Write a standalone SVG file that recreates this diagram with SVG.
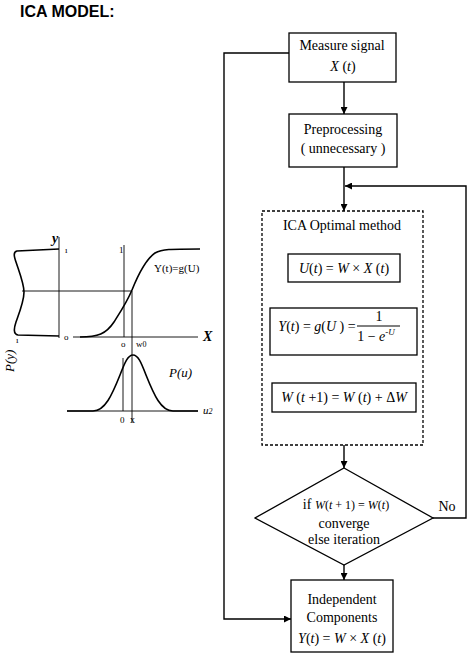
<svg xmlns="http://www.w3.org/2000/svg" width="474" height="655" viewBox="0 0 474 655">
<defs>
<marker id="ah" viewBox="0 0 10 10" refX="10" refY="5" markerWidth="7" markerHeight="7" markerUnits="userSpaceOnUse" orient="auto">
<path d="M0,0 L10,5 L0,10 Z" fill="#000"/>
</marker>
<style>
.box{fill:#fff;stroke:#000;stroke-width:1.3}
.t{font-family:"Liberation Serif","Times New Roman",serif;font-size:14px;fill:#000;text-anchor:middle}
.i{font-style:italic}
.ln{fill:none;stroke:#000;stroke-width:1.4}
.g{fill:none;stroke:#000;stroke-width:1.6}
.thin{fill:none;stroke:#000;stroke-width:0.9}
.s{font-family:"Liberation Serif","Times New Roman",serif;fill:#000}
</style>
</defs>
<rect width="474" height="655" fill="#fff"/>
<text x="20" y="17" font-family="Liberation Sans, Arial, sans-serif" font-weight="bold" font-size="16">ICA MODEL:</text>

<!-- left graph -->
<g id="graph">
<line class="thin" x1="59" y1="237" x2="59" y2="338"/>
<line class="thin" x1="22" y1="291" x2="132" y2="291"/>
<line class="thin" x1="73" y1="337" x2="198" y2="337"/>
<line class="thin" x1="124" y1="245" x2="124" y2="337"/>
<line class="thin" x1="132" y1="291" x2="132" y2="423"/>
<line class="thin" x1="67" y1="411" x2="198" y2="411"/>
<line class="thin" x1="123" y1="358" x2="123" y2="411"/>
<path class="g" d="M59,249 L17,251 C13,252 14,256 16,262 C20,274 24,284 24,292 C24,301 20,311 16,322 C14,328 13,334 18,335 L59,336"/>
<path class="g" d="M80,337 C98,337 106,334 114,322 C121,311 127,302 132,290 C138,275 145,260 155,253 C162,249 170,249 200,249"/>
<path class="g" d="M67,411 L93,411 C105,411 112,395 120,375 C125,362 128,355 133,355 C138,355 141,362 146,375 C154,395 161,411 173,411 L198,411"/>
<text class="s" x="52" y="243" font-size="14" font-weight="bold" font-style="italic">y</text>
<text class="s" x="65" y="253" font-size="9">ı</text>
<text class="s" x="64" y="340" font-size="9">o</text>
<text class="s" x="16" y="343" font-size="9">ı</text>
<text class="s" x="0" y="0" font-size="13" font-style="italic" transform="translate(14,372) rotate(-90)">P(y)</text>
<text class="s" x="119" y="253" font-size="9">1</text>
<text class="s" x="154" y="272" font-size="11" fill="#333">Y(t)=g(U)</text>
<text class="s" x="203" y="341" font-size="14" font-weight="bold" font-style="italic">X</text>
<text class="s" x="121" y="347" font-size="9">o</text>
<text class="s" x="136" y="347" font-size="9">w<tspan font-size="8">0</tspan></text>
<text class="s" x="169" y="377" font-size="13" font-style="italic">P(u)</text>
<text class="s" x="203" y="414" font-size="11" font-style="italic">u<tspan font-size="8">2</tspan></text>
<text class="s" x="120" y="423" font-size="9">0</text>
<text class="s" x="130" y="423" font-size="10">x</text>
</g>

<!-- connectors -->
<g id="connectors">
<line class="ln" x1="344" y1="82" x2="344" y2="114" marker-end="url(#ah)"/>
<line class="ln" x1="344" y1="167" x2="344" y2="211" marker-end="url(#ah)"/>
<line class="ln" x1="344" y1="445" x2="344" y2="468" marker-end="url(#ah)"/>
<line class="ln" x1="344" y1="565" x2="344" y2="580" marker-end="url(#ah)"/>
<polyline class="ln" points="433,518 466,518 466,186 345,186" marker-end="url(#ah)"/>
<polyline class="ln" points="289,53 224,53 224,619 291,619" marker-end="url(#ah)"/>
<text class="t" x="447" y="511">No</text>
</g>

<g id="measure">
<rect class="box" x="289" y="33" width="107" height="49"/>
<text class="t" x="342" y="50">Measure signal</text>
<text class="t" x="343" y="71"><tspan class="i">X</tspan> (<tspan class="i">t</tspan>)</text>
</g>

<g id="preprocess">
<rect class="box" x="289" y="114" width="108" height="53"/>
<text class="t" x="343" y="134">Preprocessing</text>
<text class="t" x="343" y="153">( unnecessary )</text>
</g>

<g id="ica">
<rect x="262" y="211" width="161" height="234" fill="none" stroke="#000" stroke-width="1.3" stroke-dasharray="3,2"/>
<text class="t" x="342" y="230">ICA Optimal method</text>
</g>

<g id="eq-u">
<rect class="box" x="288" y="254" width="112" height="28"/>
<text class="t" x="344" y="273"><tspan class="i">U</tspan>(<tspan class="i">t</tspan>) = <tspan class="i">W</tspan> × <tspan class="i">X</tspan> (<tspan class="i">t</tspan>)</text>
</g>

<g id="eq-y">
<rect class="box" x="270" y="308" width="147" height="47"/>
<text class="t" x="317" y="331"><tspan class="i">Y</tspan>(<tspan class="i">t</tspan>) = <tspan class="i">g</tspan>(<tspan class="i">U</tspan> ) =</text>
<line x1="357" y1="326" x2="400" y2="326" stroke="#000" stroke-width="1"/>
<text class="t" x="379" y="321">1</text>
<text class="t" x="376" y="341">1 − <tspan class="i">e</tspan><tspan class="i" font-size="9" dy="-6">-U</tspan></text>
</g>

<g id="eq-w">
<rect class="box" x="272" y="383" width="144" height="29"/>
<text class="t" x="344" y="402"><tspan class="i">W</tspan> (<tspan class="i">t</tspan> +1) = <tspan class="i">W</tspan> (<tspan class="i">t</tspan>) + Δ<tspan class="i">W</tspan></text>
</g>

<g id="decision">
<polygon class="box" points="344,468 433,518 344,565 255,518"/>
<text class="t" x="346" y="509">if <tspan class="i" font-size="12">W</tspan><tspan font-size="12">(</tspan><tspan class="i" font-size="12">t</tspan><tspan font-size="12"> + 1) = </tspan><tspan class="i" font-size="12">W</tspan><tspan font-size="12">(</tspan><tspan class="i" font-size="12">t</tspan><tspan font-size="12">)</tspan></text>
<text class="t" x="344" y="528">converge</text>
<text class="t" x="344" y="544">else iteration</text>
</g>

<g id="output">
<rect class="box" x="291" y="580" width="102" height="72"/>
<text class="t" x="342" y="604">Independent</text>
<text class="t" x="342" y="622">Components</text>
<text class="t" x="342" y="643"><tspan class="i">Y</tspan>(<tspan class="i">t</tspan>) = <tspan class="i">W</tspan> × <tspan class="i">X</tspan> (<tspan class="i">t</tspan>)</text>
</g>
</svg>
